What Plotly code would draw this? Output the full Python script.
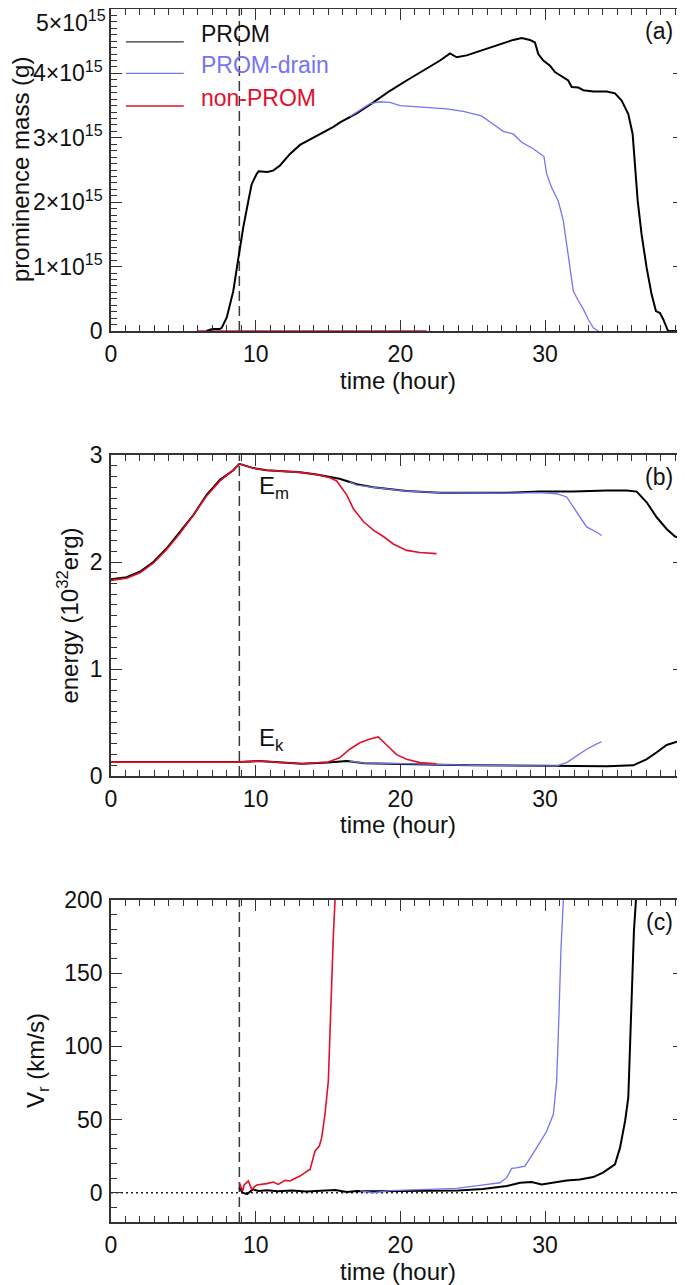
import numpy as np
import plotly.graph_objects as go
from plotly.subplots import make_subplots

# tempo do inicio (linha tracejada), em horas
t_onset = 8.87

# ---- painel (a): massa da proeminencia (unidades de 1e15 g) ----
t_mass_prom = [6.6, 7.0, 7.5, 7.65, 8.0, 8.45, 8.85, 9.14, 9.49, 9.72, 10.07, 10.2, 10.8,
               11.2, 11.68, 12.37, 13.06, 14.2, 15.37, 15.83, 16.52, 16.98, 18.13, 19.28,
               20.43, 21.58, 22.74, 23.43, 23.89, 24.58, 25.73, 26.88, 27.8, 28.38, 28.96,
               29.3, 29.53, 29.88, 30.34, 30.68, 31.15, 31.6, 31.84, 32.3, 32.64, 33.33,
               34.26, 34.83, 35.29, 35.75, 36.05, 36.21, 36.4, 36.67, 37.02, 37.36, 37.66,
               37.94, 38.17, 38.5, 39.6]
mass_prom = [0.0, 0.03, 0.03, 0.05, 0.21, 0.62, 1.2, 1.61, 2.02, 2.28, 2.44, 2.48, 2.47,
             2.49, 2.57, 2.75, 2.89, 3.03, 3.17, 3.24, 3.33, 3.38, 3.55, 3.73,
             3.89, 4.04, 4.2, 4.31, 4.25, 4.28, 4.37, 4.45, 4.52, 4.55, 4.52,
             4.48, 4.3, 4.2, 4.12, 4.02, 3.95, 3.89, 3.79, 3.78, 3.74, 3.72,
             3.72, 3.69, 3.58, 3.37, 3.06, 2.54, 2.02, 1.5, 0.98, 0.57, 0.31,
             0.28, 0.18, 0.0, 0.0]

t_mass_drain = [16.52, 17.09, 17.9, 18.6, 19.28, 19.97, 21.58, 23.2, 24.35, 25.6, 26.42,
                27.11, 27.8, 28.38, 29.18, 29.92, 30.11, 30.45, 30.91, 31.26, 31.49,
                31.72, 31.95, 32.3, 32.64, 32.99, 33.33, 33.68]
mass_drain = [3.33, 3.41, 3.53, 3.56, 3.55, 3.5, 3.47, 3.45, 3.41, 3.34, 3.21,
              3.1, 3.06, 2.93, 2.83, 2.71, 2.44, 2.23, 2.02, 1.71, 1.35,
              0.98, 0.62, 0.47, 0.34, 0.18, 0.05, 0.0]

t_mass_non = [6.0, 21.8]
mass_non = [0.0, 0.0]

# ---- painel (b): energias (1e32 erg) ----
t_em_prom = [0, 1.08, 2.0, 2.92, 3.85, 4.77, 5.69, 6.61, 7.53, 8.45, 8.87, 9.83, 10.76,
             11.9, 13.06, 14.2, 15.13, 15.8, 16.5, 16.98, 18.13, 20.43, 22.74, 25.04,
             27.35, 29.65, 31.95, 34.26, 35.64, 36.33, 37.02, 37.71, 38.4, 38.98, 39.6]
em_prom = [1.84, 1.86, 1.91, 2.0, 2.13, 2.28, 2.44, 2.63, 2.77, 2.86, 2.92, 2.88, 2.86,
           2.85, 2.84, 2.82, 2.8, 2.78, 2.75, 2.73, 2.7, 2.665, 2.65, 2.65,
           2.65, 2.66, 2.66, 2.67, 2.67, 2.66, 2.56, 2.42, 2.31, 2.24, 2.22]

t_em_drain = [16.5, 16.98, 18.13, 20.43, 22.74, 25.04, 27.35, 29.65, 30.8, 31.49,
              32.18, 32.87, 33.57, 33.91]
em_drain = [2.75, 2.72, 2.7, 2.665, 2.65, 2.645, 2.645, 2.65, 2.64, 2.61,
            2.47, 2.33, 2.28, 2.25]

t_em_non = [0, 1.08, 2.0, 2.92, 3.85, 4.77, 5.69, 6.61, 7.53, 8.45, 8.87, 9.83, 10.76,
            11.9, 13.06, 14.2, 15.13, 15.6, 16.0, 16.29, 16.75, 17.44, 18.13, 18.82,
            19.51, 20.43, 21.35, 22.5]
em_non = [1.83, 1.85, 1.9, 1.99, 2.12, 2.27, 2.44, 2.62, 2.76, 2.86, 2.92, 2.88, 2.86,
          2.85, 2.84, 2.82, 2.79, 2.76, 2.69, 2.63, 2.5, 2.38, 2.3, 2.24,
          2.17, 2.11, 2.09, 2.08]

t_ek_prom = [0, 4, 8.87, 10.2, 11.5, 13.2, 15.0, 16.3, 17.5, 20.4, 22.7, 25.0, 29.7,
             34.3, 36.1, 37.0, 37.7, 38.4, 39.1, 39.6]
ek_prom = [0.13, 0.13, 0.13, 0.14, 0.13, 0.115, 0.125, 0.14, 0.12, 0.115, 0.105, 0.1,
           0.094, 0.092, 0.1, 0.156, 0.22, 0.29, 0.32, 0.31]

t_ek_drain = [16.5, 17.5, 20.4, 22.7, 25.0, 29.7, 30.8, 31.49, 32.18, 32.87, 33.57, 33.91]
ek_drain = [0.14, 0.12, 0.115, 0.105, 0.1, 0.094, 0.094, 0.125, 0.19, 0.25, 0.3, 0.32]

t_ek_non = [0, 4, 8.87, 10.2, 11.5, 13.2, 15.0, 15.8, 16.5, 17.2, 17.9, 18.47, 19.05,
            19.74, 20.43, 21.35, 22.5]
ek_non = [0.13, 0.13, 0.13, 0.14, 0.13, 0.115, 0.13, 0.17, 0.25, 0.31, 0.345, 0.365,
          0.29, 0.2, 0.156, 0.125, 0.115]

# ---- painel (c): velocidade radial (km/s) ----
t_vr_prom = [8.87, 9.1, 9.4, 9.8, 10.2, 10.8, 11.5, 12.5, 13.5, 14.5, 15.5, 16.3, 17,
             18, 20, 22, 24, 25.7, 27.35, 28.27, 29.07, 29.76, 30.57, 31.49, 32.4,
             33.33, 34.0, 34.83, 35.18, 35.53, 35.75, 35.87, 36.0, 36.14, 36.28, 36.35]
vr_prom = [3.4, 0.0, -1.0, 2.3, 1.2, 1.7, 1.0, 1.5, 0.8, 1.5, 1.8, 0.5, 1.2,
           1.0, 1.0, 1.2, 1.5, 2.5, 4.6, 6.8, 7.3, 5.7, 6.8, 8.4, 9.1,
           10.7, 13.7, 19.4, 30.8, 49, 65, 99, 144.6, 178.8, 200, 212]

t_vr_drain = [17.2, 18.13, 19.28, 21.58, 23.89, 25.73, 26.88, 27.35, 27.69, 28.0, 28.61,
              29.42, 30.11, 30.57, 30.8, 30.96, 31.1, 31.26, 31.32]
vr_drain = [1.5, 0.0, 1.5, 2.3, 3.0, 5.3, 6.8, 10.3, 16.6, 17, 18.2,
            30.8, 42, 53.6, 76.3, 122, 167.4, 199.3, 212]

t_vr_non = [8.87, 9.1, 9.2, 9.49, 9.72, 10.07, 10.76, 11.22, 11.56, 12.03, 12.37, 13.06,
            13.64, 13.75, 14.1, 14.4, 14.56, 14.79, 15.02, 15.13, 15.25, 15.37, 15.48, 15.55]
vr_non = [6.8, 1.2, 5.3, 8.0, 2.3, 5.3, 6.2, 7.3, 5.7, 8.4, 8.0, 11.4,
          15.3, 15.6, 28.5, 31.9, 37.6, 53.6, 76.3, 110.5, 144.6, 176.6, 199.3, 215]

mass_ticks = [0, 1, 2, 3, 4, 5]
mass_ticktext = ["0"] + ["%d×10<sup>15</sup>" % v for v in mass_ticks[1:]]

PRETO = "#000000"
AZUL = "#7474f4"
VERMELHO = "#e2102b"
FONTE = "Liberation Sans, Arial, Helvetica, sans-serif"
EIXO = "#333333"

fig = make_subplots(rows=3, cols=1)

series = [
    (1, t_mass_non, np.array(mass_non) * 1e15, VERMELHO, 1.6),
    (1, t_mass_prom, np.array(mass_prom) * 1e15, PRETO, 2.0),
    (1, t_mass_drain, np.array(mass_drain) * 1e15, AZUL, 1.3),
    (2, t_em_prom, em_prom, PRETO, 2.0),
    (2, t_em_drain, em_drain, AZUL, 1.3),
    (2, t_em_non, em_non, VERMELHO, 1.6),
    (2, t_ek_prom, ek_prom, PRETO, 2.0),
    (2, t_ek_drain, ek_drain, AZUL, 1.3),
    (2, t_ek_non, ek_non, VERMELHO, 1.6),
    (3, t_vr_prom, vr_prom, PRETO, 2.0),
    (3, t_vr_drain, vr_drain, AZUL, 1.3),
    (3, t_vr_non, vr_non, VERMELHO, 1.6),
]
for linha, x, y, cor, w in series:
    fig.add_trace(go.Scatter(x=x, y=y, mode="lines", line=dict(color=cor, width=w),
                             showlegend=False, hoverinfo="skip"), row=linha, col=1)

# linhas de referencia
for linha in (1, 2, 3):
    fig.add_vline(x=t_onset, row=linha, col=1, layer="below",
                  line=dict(color="#3a3a3a", width=1.5, dash="10px,5px"))
fig.add_hline(y=0, row=3, col=1, layer="below",
              line=dict(color="#222222", width=1.5, dash="2px,3px"))

# estilo dos eixos
dominios = [(0.7345, 1.0), (0.3677, 0.6321), (0.0, 0.2655)]
minor_x = dict(dtick=1, ticks="inside", ticklen=6, tickcolor=EIXO, tickwidth=1.2)
for i, dom in enumerate(dominios, start=1):
    fig.update_xaxes(range=[0, 39.6], domain=[0, 1], tickvals=[0, 10, 20, 30],
                     minor=minor_x, row=i, col=1)
    fig.update_yaxes(domain=list(dom), row=i, col=1)

eixo = dict(showgrid=False, zeroline=False, showline=True, linecolor=EIXO, linewidth=1.5,
            mirror="ticks", ticks="inside", ticklen=11, tickwidth=1.2, tickcolor=EIXO,
            automargin=False, ticklabeloverflow="allow",
            tickfont=dict(size=23, color="#111", family=FONTE))
fig.update_xaxes(ticklabelstandoff=2, **eixo)
fig.update_yaxes(ticklabelstandoff=2, **eixo)

# o rotulo 5x10^15 fica no topo da figura: vai como anotacao, um pouco abaixo
fig.update_yaxes(range=[0, 5e15], tickvals=[v * 1e15 for v in mass_ticks],
                 ticktext=mass_ticktext[:-1] + [""],
                 minor=dict(dtick=1e14, ticks="inside", ticklen=6, tickcolor=EIXO, tickwidth=1.2),
                 row=1, col=1)
fig.update_yaxes(range=[0, 3], tickvals=[0, 1, 2, 3],
                 minor=dict(dtick=0.1, ticks="inside", ticklen=6, tickcolor=EIXO, tickwidth=1.2),
                 row=2, col=1)
fig.update_yaxes(range=[-20, 200], tickvals=[0, 50, 100, 150, 200],
                 minor=dict(dtick=10, ticks="inside", ticklen=6, tickcolor=EIXO, tickwidth=1.2),
                 row=3, col=1)
fig.add_annotation(text=mass_ticktext[-1], xref="x domain", yref="y", x=0, y=mass_ticks[-1] * 1e15,
                   xshift=-3, yshift=-12, showarrow=False, xanchor="right", yanchor="middle",
                   font=dict(size=23, color="#111", family=FONTE))

# textos
txt = dict(size=24, color="#111", family=FONTE)
titulos_y = ["prominence mass (g)", "energy (10<sup>32</sup>erg)", "V<sub>r</sub> (km/s)"]
deslocamentos = [-91, -43, -73]
for i in range(3):
    sufixo = "" if i == 0 else str(i + 1)
    fig.add_annotation(text="time (hour)", xref="x%s domain" % sufixo, yref="y%s domain" % sufixo,
                       x=0.5, y=0, yshift=-49, showarrow=False, font=txt, yanchor="middle")
    fig.add_annotation(text=titulos_y[i], xref="x%s domain" % sufixo, yref="y%s domain" % sufixo,
                       x=0, y=0.5, xshift=deslocamentos[i], textangle=-90, showarrow=False,
                       font=txt, xanchor="center", yanchor="middle")
    fig.add_annotation(text="(%s)" % "abc"[i], xref="x%s domain" % sufixo, yref="y%s domain" % sufixo,
                       x=1, y=1, xshift=-9, yshift=-22, showarrow=False,
                       font=dict(size=23, color="#111", family=FONTE), xanchor="right", yanchor="middle")

fig.add_annotation(text="E<sub>m</sub>", x=10.1, y=2.7, xref="x2", yref="y2", showarrow=False,
                   font=txt, xanchor="left", yanchor="middle")
fig.add_annotation(text="E<sub>k</sub>", x=10.1, y=0.34, xref="x2", yref="y2", showarrow=False,
                   font=txt, xanchor="left", yanchor="middle")

# legenda desenhada a mao no painel (a)
legenda = [("PROM", "#333333", 1.2, 0.898), ("PROM-drain", AZUL, 1.3, 0.800),
           ("non-PROM", VERMELHO, 1.6, 0.699)]
for nome, cor, w, yy in legenda:
    fig.add_shape(type="line", xref="x domain", yref="y domain", x0=0.026, x1=0.127, y0=yy, y1=yy,
                  line=dict(color=cor, width=w))
    fig.add_annotation(text=nome, xref="x domain", yref="y domain", x=0.154, y=yy, yshift=8,
                       showarrow=False, xanchor="left", yanchor="middle",
                       font=dict(size=23, color=cor if nome != "PROM" else "#111", family=FONTE))

# a pagina tem 8 px de margem no corpo: a figura fica 8 px menor para caber na janela
fig.update_layout(width=677, height=1277, margin=dict(l=103, r=1, t=1, b=63),
                  plot_bgcolor="white", paper_bgcolor="white", showlegend=False)

fig.write_html("out.html")
